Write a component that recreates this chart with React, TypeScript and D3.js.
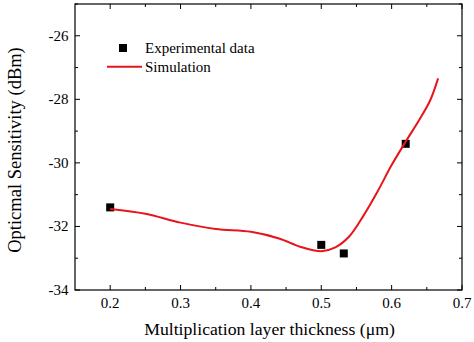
import React from "react";
import * as d3 from "d3";

const expX = [0.2, 0.5, 0.532, 0.62];
const expY = [-31.4, -32.58, -32.85, -29.4];

const simX = [0.2, 0.25, 0.3, 0.35, 0.4, 0.44, 0.47, 0.5, 0.52, 0.54, 0.56, 0.58, 0.6, 0.62, 0.64, 0.655, 0.666];
const simY = [-31.45, -31.6, -31.88, -32.08, -32.17, -32.38, -32.64, -32.78, -32.66, -32.31, -31.66, -30.9, -30.07, -29.33, -28.62, -28.02, -27.34];

const xMajor = [0.2, 0.3, 0.4, 0.5, 0.6, 0.7];
const xMinor = [0.25, 0.35, 0.45, 0.55, 0.65];
const yMajor = [-34, -32, -30, -28, -26];
const yMinor = [-33, -31, -29, -27, -25];

const xLabel = "Multiplication layer thickness (\u03bcm)";
const yLabel = "Opticmal Sensitivity (dBm)";
const legendLabels = ["Experimental data", "Simulation"];

export default function App() {
  const W = 474, H = 342;
  const left = 75, right = 462, top = 4, bottom = 290;
  const x = d3.scaleLinear().domain([0.15, 0.7]).range([left, right]);
  const y = d3.scaleLinear().domain([-34, -25]).range([bottom, top]);
  const line = d3.line<number>().x((d, i) => x(simX[i])).y((d) => y(d)).curve(d3.curveCatmullRom.alpha(0.5));
  const font = "'Liberation Serif', 'Times New Roman', serif";
  const sq = 8;
  return (
    <svg width={W} height={H} style={{ position: "absolute", left: 0, top: 0 }} fontFamily={font}>
      <rect x={0} y={0} width={W} height={H} fill="#fff" />
      {expX.map((v, i) => (
        <rect key={i} x={x(v) - sq / 2} y={y(expY[i]) - sq / 2} width={sq} height={sq} fill="#000" />
      ))}
      <path d={line(simY) || ""} fill="none" stroke="#e8141c" strokeWidth={2} />
      <rect x={left} y={top} width={right - left} height={bottom - top} fill="none" stroke="#000" strokeWidth={1.2} />
      {xMajor.map((v) => (
        <g key={"xm" + v}>
          <line x1={x(v)} x2={x(v)} y1={bottom} y2={bottom - 5} stroke="#000" />
          <line x1={x(v)} x2={x(v)} y1={top} y2={top + 5} stroke="#000" />
          <text x={x(v)} y={308} fontSize={15} textAnchor="middle">{v.toFixed(1)}</text>
        </g>
      ))}
      {xMinor.map((v) => (
        <g key={"xn" + v}>
          <line x1={x(v)} x2={x(v)} y1={bottom} y2={bottom - 3} stroke="#000" />
          <line x1={x(v)} x2={x(v)} y1={top} y2={top + 3} stroke="#000" />
        </g>
      ))}
      {yMajor.map((v) => (
        <g key={"ym" + v}>
          <line x1={left} x2={left + 5} y1={y(v)} y2={y(v)} stroke="#000" />
          <line x1={right} x2={right - 5} y1={y(v)} y2={y(v)} stroke="#000" />
          <text x={68.5} y={y(v) + 5} fontSize={15} textAnchor="end">{String(v)}</text>
        </g>
      ))}
      {yMinor.map((v) => (
        <g key={"yn" + v}>
          <line x1={left} x2={left + 3} y1={y(v)} y2={y(v)} stroke="#000" />
          <line x1={right} x2={right - 3} y1={y(v)} y2={y(v)} stroke="#000" />
        </g>
      ))}
      <text x={269.5} y={335} fontSize={17.7} textAnchor="middle">{xLabel}</text>
      <text transform={`translate(20.5,150) rotate(-90)`} fontSize={18.5} textAnchor="middle">{yLabel}</text>
      <rect x={123 - sq / 2} y={48 - sq / 2} width={sq} height={sq} fill="#000" />
      <text x={145} y={52.7} fontSize={15}>{legendLabels[0]}</text>
      <line x1={107} x2={142} y1={66.7} y2={66.7} stroke="#e8141c" strokeWidth={2} />
      <text x={145} y={72} fontSize={15}>{legendLabels[1]}</text>
    </svg>
  );
}
